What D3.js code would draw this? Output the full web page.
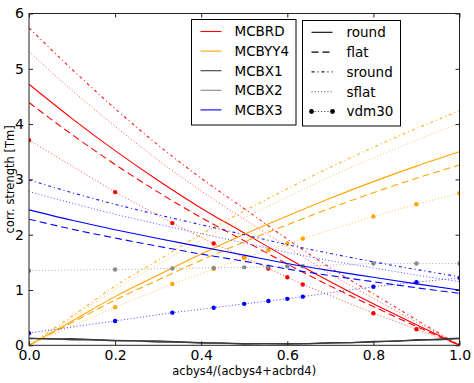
<!DOCTYPE html>
<html>
<head>
<meta charset="utf-8">
<script src="https://cdn.jsdelivr.net/npm/d3@7"></script>
<style>
  body { margin: 0; background: #fff; }
  text { font-family: "DejaVu Sans", sans-serif; }
</style>
</head>
<body>
<svg id="root" width="474" height="383"></svg>
<script>

// x positions of the smooth curves
const xGrid = [0, 0.1, 0.2, 0.3, 0.4, 0.5, 0.6, 0.7, 0.8, 0.9, 1.0];

// MCBRD
const redRound  = [4.72, 4.10, 3.52, 2.98, 2.48, 2.03, 1.58, 1.15, 0.75, 0.37, 0];
const redFlat   = [4.39, 3.81, 3.27, 2.77, 2.31, 1.89, 1.47, 1.07, 0.70, 0.34, 0];
const redSround = [5.74, 4.99, 4.28, 3.62, 3.02, 2.47, 1.92, 1.40, 0.93, 0.46, 0];
const redSflat  = [5.31, 4.61, 3.96, 3.35, 2.79, 2.28, 1.78, 1.29, 0.85, 0.42, 0];
// MCBYY4
const orangeRound  = [0, 0.44, 0.88, 1.27, 1.65, 2.01, 2.34, 2.66, 2.96, 3.24, 3.50];
const orangeFlat   = [0, 0.41, 0.82, 1.18, 1.54, 1.87, 2.18, 2.48, 2.76, 3.02, 3.26];
const orangeSround = [0, 0.53, 1.07, 1.54, 2.01, 2.43, 2.83, 3.22, 3.58, 3.92, 4.24];
const orangeSflat  = [0, 0.50, 1.01, 1.46, 1.90, 2.30, 2.68, 3.05, 3.39, 3.71, 4.01];
// MCBX3
const blueRound  = [2.45, 2.26, 2.09, 1.93, 1.78, 1.63, 1.48, 1.35, 1.23, 1.11, 1.00];
const blueFlat   = [2.28, 2.10, 1.94, 1.79, 1.65, 1.52, 1.38, 1.26, 1.15, 1.04, 0.94];
const blueSround = [2.99, 2.76, 2.55, 2.36, 2.18, 2.00, 1.82, 1.66, 1.51, 1.37, 1.24];
const blueSflat  = [2.78, 2.57, 2.37, 2.19, 2.02, 1.85, 1.68, 1.53, 1.40, 1.27, 1.15];
// MCBX1 (noisy, near zero)
const x1X     = [0, .05, .1, .15, .2, .25, .3, .35, .4, .45, .5, .55, .6, .65, .7, .75, .8, .85, .9, .95, 1];
const x1Round = [.13, .11, .12, .10, .09, .08, .08, .06, .05, .04, .03, .03, .02, .03, .04, .05, .06, .08, .09, .11, .13];
const x1Flat  = [.12, .12, .10, .10, .08, .08, .06, .06, .04, .04, .02, .03, .03, .03, .05, .05, .07, .07, .10, .10, .12];

// vdm30 points
const vdmX      = [0, 0.2, 0.333, 0.429, 0.5, 0.556, 0.6, 0.636, 0.8, 0.9, 1.0];
const redVdm    = [3.71, 2.77, 2.21, 1.84, 1.59, 1.39, 1.23, 1.10, 0.58, 0.29, 0.0];
const orangeVdm = [0, 0.69, 1.11, 1.38, 1.58, 1.72, 1.84, 1.93, 2.33, 2.55, 2.75];
const grayVdm   = [1.35, 1.37, 1.39, 1.40, 1.41, 1.42, 1.43, 1.43, 1.48, 1.48, 1.48];
const blueVdm   = [0.22, 0.44, 0.59, 0.68, 0.75, 0.80, 0.84, 0.88, 1.06, 1.14, 1.22];

const magnetNames = ['MCBRD', 'MCBYY4', 'MCBX1', 'MCBX2', 'MCBX3'];
const magnetColors = ['#ff0000', '#ffa500', '#3a3a3a', '#8a8a8a', '#0000ff'];
const styleNames = ['round', 'flat', 'sround', 'sflat', 'vdm30'];
const dashes = { round: null, flat: '7,4', sround: '3,3,1,3', sflat: '1,2.2', vdm30: '1,2.2' };
const widths = { round: 1.1, flat: 1.1, sround: 1.1, sflat: 0.9, vdm30: 0.9 };
const opac = { round: 1, flat: 1, sround: 0.9, sflat: 0.75, vdm30: 0.8 };

const xTicks = [0, 0.2, 0.4, 0.6, 0.8, 1.0];
const yTicks = [0, 1, 2, 3, 4, 5, 6];

const svg = d3.select('#root');
const width = +svg.attr('width');
const height = +svg.attr('height');
const margin = { left: 29, top: 13.5, right: 14.5, bottom: 37.7 };

const x = d3.scaleLinear().domain([0, 1]).range([margin.left, width - margin.right]);
const y = d3.scaleLinear().domain([0, 6]).range([height - margin.bottom, margin.top]);

svg.append('clipPath').attr('id', 'clip')
    .append('rect')
    .attr('x', x(0)).attr('y', y(6))
    .attr('width', x(1) - x(0)).attr('height', y(0) - y(6));

const plot = svg.append('g').attr('clip-path', 'url(#clip)');

const series = [
    { xs: xGrid, ys: redRound, c: 0, s: 'round' },
    { xs: xGrid, ys: redFlat, c: 0, s: 'flat' },
    { xs: xGrid, ys: redSround, c: 0, s: 'sround' },
    { xs: xGrid, ys: redSflat, c: 0, s: 'sflat' },
    { xs: vdmX, ys: redVdm, c: 0, s: 'vdm30' },
    { xs: xGrid, ys: orangeRound, c: 1, s: 'round' },
    { xs: xGrid, ys: orangeFlat, c: 1, s: 'flat' },
    { xs: xGrid, ys: orangeSround, c: 1, s: 'sround' },
    { xs: xGrid, ys: orangeSflat, c: 1, s: 'sflat' },
    { xs: vdmX, ys: orangeVdm, c: 1, s: 'vdm30' },
    { xs: x1X, ys: x1Round, c: 2, s: 'round' },
    { xs: x1X, ys: x1Flat, c: 2, s: 'round' },
    { xs: vdmX, ys: grayVdm, c: 3, s: 'vdm30' },
    { xs: xGrid, ys: blueRound, c: 4, s: 'round' },
    { xs: xGrid, ys: blueFlat, c: 4, s: 'flat' },
    { xs: xGrid, ys: blueSround, c: 4, s: 'sround' },
    { xs: xGrid, ys: blueSflat, c: 4, s: 'sflat' },
    { xs: vdmX, ys: blueVdm, c: 4, s: 'vdm30' }
];

series.forEach(sr => {
    const pts = sr.xs.map((v, i) => [v, sr.ys[i]]);
    const line = d3.line()
        .x(d => x(d[0]))
        .y(d => y(d[1]))
        .curve(sr.s === 'vdm30' || sr.c === 2 ? d3.curveLinear : d3.curveMonotoneX);
    plot.append('path')
        .attr('d', line(pts))
        .attr('fill', 'none')
        .attr('stroke', magnetColors[sr.c])
        .attr('stroke-opacity', opac[sr.s])
        .attr('stroke-width', sr.c === 2 ? 1.3 : widths[sr.s])
        .attr('stroke-dasharray', dashes[sr.s]);
    if (sr.s === 'vdm30') {
        plot.selectAll(null)
            .data(pts)
            .enter()
            .append('circle')
            .attr('cx', d => x(d[0]))
            .attr('cy', d => y(d[1]))
            .attr('r', 2.2)
            .attr('fill', magnetColors[sr.c]);
    }
});

// axes, ticks pointing inward on all four sides
const fmtX = d3.format('.1f');
const gx = svg.append('g').attr('transform', `translate(0,${y(0)})`)
    .call(d3.axisBottom(x).tickValues(xTicks).tickFormat(fmtX).tickSizeInner(-4).tickSizeOuter(0).tickPadding(5));
const gy = svg.append('g').attr('transform', `translate(${x(0)},0)`)
    .call(d3.axisLeft(y).tickValues(yTicks).tickFormat(d3.format('d')).tickSizeInner(-4).tickSizeOuter(0).tickPadding(5));
const gt = svg.append('g').attr('transform', `translate(0,${y(6)})`)
    .call(d3.axisTop(x).tickValues(xTicks).tickFormat('').tickSizeInner(-4).tickSizeOuter(0));
const gr = svg.append('g').attr('transform', `translate(${x(1)},0)`)
    .call(d3.axisRight(y).tickValues(yTicks).tickFormat('').tickSizeInner(-4).tickSizeOuter(0));

[gx, gy, gt, gr].forEach(g => {
    g.select('.domain').remove();
    g.selectAll('line').attr('stroke', '#222');
    g.selectAll('text').attr('font-size', 14).attr('fill', '#000')
        .style('font-family', '"DejaVu Sans", sans-serif');
});

svg.append('rect')
    .attr('x', x(0)).attr('y', y(6))
    .attr('width', x(1) - x(0)).attr('height', y(0) - y(6))
    .attr('fill', 'none').attr('stroke', '#222').attr('stroke-width', 1);

svg.append('text')
    .attr('x', (x(0) + x(1)) / 2).attr('y', 375)
    .attr('text-anchor', 'middle').attr('font-size', 11.5)
    .text('acbys4/(acbys4+acbrd4)');

svg.append('text')
    .attr('transform', `translate(14,${(y(0) + y(6)) / 2}) rotate(-90)`)
    .attr('text-anchor', 'middle').attr('font-size', 11.5)
    .text('corr. strength [Tm]');

// legend 1: magnets
const leg1 = svg.append('g');
leg1.append('rect')
    .attr('x', 191.5).attr('y', 19.5).attr('width', 104.5).attr('height', 105.5)
    .attr('fill', '#fff').attr('stroke', '#000').attr('stroke-width', 1);
magnetNames.forEach((name, i) => {
    const ry = 31.5 + i * 19.6;
    leg1.append('line')
        .attr('x1', 200.5).attr('x2', 221.5).attr('y1', ry).attr('y2', ry)
        .attr('stroke', magnetColors[i]).attr('stroke-width', 1.1);
    leg1.append('text')
        .attr('x', 234.5).attr('y', ry).attr('dy', '0.36em')
        .attr('font-size', 13.5).text(name);
});

// legend 2: line styles
const leg2 = svg.append('g');
leg2.append('rect')
    .attr('x', 302.5).attr('y', 20.5).attr('width', 98).attr('height', 105.5)
    .attr('fill', '#fff').attr('stroke', '#000').attr('stroke-width', 1);
styleNames.forEach((name, i) => {
    const ry = 32.3 + i * 19.8;
    leg2.append('line')
        .attr('x1', 311.5).attr('x2', 332.5).attr('y1', ry).attr('y2', ry)
        .attr('stroke', '#000').attr('stroke-width', 1.1)
        .attr('stroke-opacity', opac[name])
        .attr('stroke-dasharray', dashes[name]);
    if (name === 'vdm30') {
        [311.5, 332.5].forEach(cx => leg2.append('circle')
            .attr('cx', cx).attr('cy', ry).attr('r', 2.4).attr('fill', '#000'));
    }
    leg2.append('text')
        .attr('x', 346.5).attr('y', ry).attr('dy', '0.36em')
        .attr('font-size', 13.5).text(name);
});

</script>
</body>
</html>
